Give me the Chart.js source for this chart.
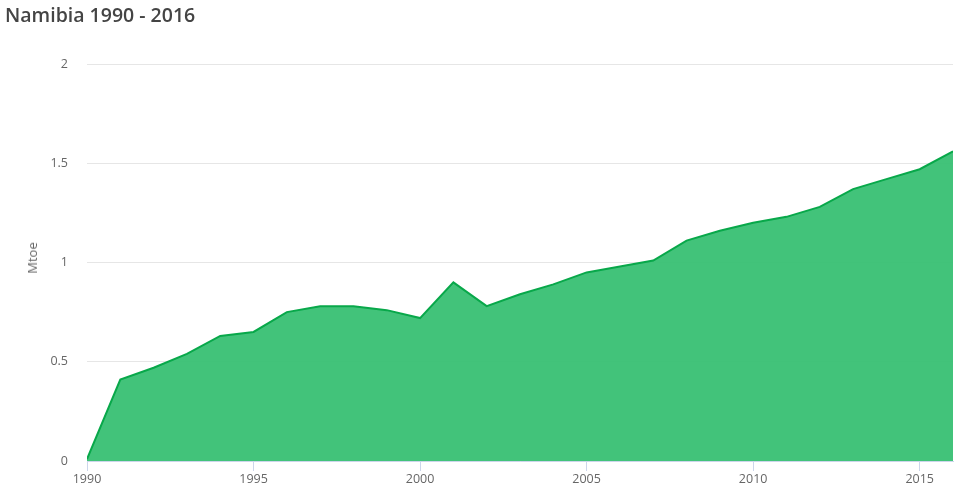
<!DOCTYPE html>
<html>
<head>
<meta charset="utf-8">
<script src="https://cdn.jsdelivr.net/npm/chart.js@4"></script>
<style>
  html, body { margin: 0; padding: 0; background: #fff; }
  #wrap { position: relative; width: 958px; height: 489px; }
  #title { position: absolute; left: 5px; top: 1px; font: 600 19.5px "Open Sans", sans-serif; color: #444; }
  #ytitle { position: absolute; left: 32px; top: 258px; transform: translate(-50%, -50%) rotate(-90deg);
            font: 13px "Open Sans", sans-serif; color: #666; }
</style>
</head>
<body>
<div id="wrap">
  <canvas id="chart" width="958" height="489"></canvas>
  <div id="title">Namibia 1990 - 2016</div>
  <div id="ytitle">Mtoe</div>
</div>
<script>
// Namibia energy series (Mtoe)
const years = [1990, 1991, 1992, 1993, 1994, 1995, 1996, 1997, 1998, 1999, 2000, 2001, 2002,
  2003, 2004, 2005, 2006, 2007, 2008, 2009, 2010, 2011, 2012, 2013, 2014, 2015, 2016];
const values = [0.01, 0.41, 0.47, 0.54, 0.63, 0.65, 0.75, 0.78, 0.78, 0.76, 0.72, 0.9, 0.78,
  0.84, 0.89, 0.95, 0.98, 1.01, 1.11, 1.16, 1.2, 1.23, 1.28, 1.37, 1.42, 1.47, 1.56];
const yTicks = [0, 0.5, 1, 1.5, 2];

const points = years.map((yr, i) => ({ x: yr, y: values[i] }));

new Chart(document.getElementById('chart'), {
  type: 'line',
  data: {
    datasets: [{
      data: points,
      borderColor: '#08a84a',
      backgroundColor: 'rgba(52, 190, 112, 0.93)',
      borderWidth: 2,
      pointRadius: 0,
      fill: 'origin',
      tension: 0
    }]
  },
  options: {
    responsive: false,
    animation: false,
    layout: { padding: { top: 64, right: 5, left: 0, bottom: 0 } },
    plugins: { legend: { display: false }, tooltip: { enabled: false } },
    scales: {
      x: {
        type: 'linear',
        min: years[0],
        max: years[years.length - 1],
        afterFit: s => { s.height = 28; },
        afterBuildTicks: s => { s.ticks = years.filter(y => y % 5 === 0).map(v => ({ value: v })); },
        ticks: { color: '#666', font: { family: 'Open Sans', size: 12.5 }, padding: 1, maxRotation: 0,
                 callback: v => String(v) },
        grid: { drawOnChartArea: false, color: '#ccd6eb', tickLength: 10 },
        border: { color: '#ccd6eb' }
      },
      y: {
        min: 0,
        max: 2,
        afterFit: s => { s.width = 87; },
        afterBuildTicks: s => { s.ticks = yTicks.map(v => ({ value: v })); },
        ticks: { color: '#666', font: { family: 'Open Sans', size: 12.5 }, padding: 19,
                 callback: v => String(v) },
        grid: { color: '#e6e6e6', drawTicks: false },
        border: { display: false }
      }
    }
  }
});
</script>
</body>
</html>
